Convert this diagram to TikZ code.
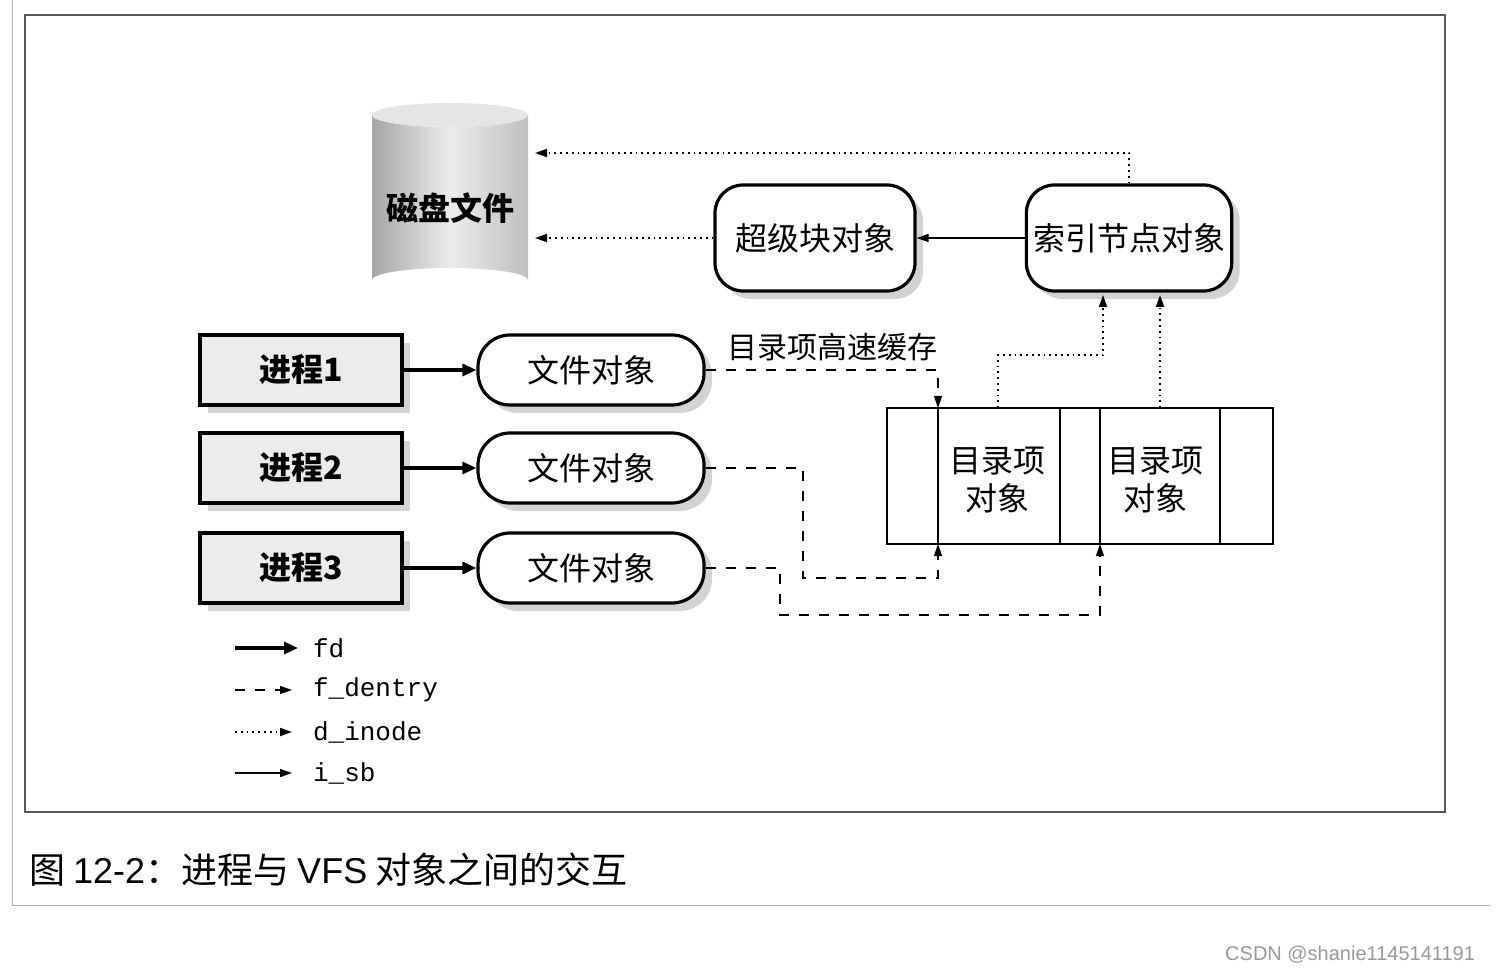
\documentclass[tikz,border=0pt]{standalone}
\usepackage{fontspec}
\setmainfont{Noto Sans CJK SC}
\newfontfamily\mono{Liberation Mono}
\newfontfamily\lat{Liberation Sans}
\usetikzlibrary{arrows.meta,shapes.geometric,shadows}
\begin{document}
\begin{tikzpicture}[x=0.5pt,y=-0.5pt,
 rbox/.style={draw,line width=1.6pt,rounded corners=14pt,fill=white,drop shadow={shadow xshift=4pt,shadow yshift=-4pt,opacity=0.35},font=\fontsize{16}{18}\selectfont,align=center},
 pbox/.style={draw,line width=1.8pt,fill=gray!15,drop shadow={shadow xshift=4pt,shadow yshift=-4pt,opacity=0.35},font=\fontsize{16}{18}\selectfont\bfseries},
 fd/.style={line width=1.6pt,-{Triangle[length=7pt,width=6pt]}},
 fden/.style={dash pattern=on 5pt off 5pt,line width=0.6pt,-{Triangle[length=6pt,width=4pt]}},
 dino/.style={dotted,line width=0.9pt,-{Triangle[length=6pt,width=4pt]}},
 isb/.style={line width=0.8pt,-{Triangle[length=6pt,width=4pt]}},
 lbl/.style={font=\mono\fontsize{13}{15}\selectfont,anchor=west}]
\useasboundingbox (0,0) rectangle (1497,972);
\draw[gray!60] (12,0) -- (12,905) -- (1490,905);
\draw[gray!70!black,line width=0.8pt] (25,15) rectangle (1445,812);
% cylinder
\shade[left color=gray!70,right color=gray!50,middle color=gray!15] (372,115) -- (372,280) arc[start angle=180,end angle=360,x radius=78,y radius=12] -- (528,115) arc[start angle=0,end angle=180,x radius=78,y radius=12];
\fill[gray!20] (450,115) ellipse[x radius=78,y radius=12];
\node[font=\fontsize{16}{18}\selectfont\bfseries] (disk) at (450,208) {磁盘文件};
\coordinate (dtop) at (535,153);
\coordinate (dmid) at (535,238);
\node[rbox,minimum width=100pt,minimum height=53pt] (sb) at (815,238) {超级块对象};
\node[rbox,minimum width=99pt,minimum height=53pt] (ino) at (1129,238) {索引节点对象};
\draw[isb] (ino.west) -- (sb.east);
\draw[dino] (sb.west) -- (dmid);
\draw[dino] (ino.north) |- (dtop);
\foreach \i/\y in {1/370,2/468,3/568}{
 \node[pbox,minimum width=101pt,minimum height=35pt] (p\i) at (301,\y) {进程\i};
 \node[rbox,minimum width=113pt,minimum height=35pt,rounded corners=16pt,font=\fontsize{16}{18}\selectfont] (f\i) at (591,\y) {文件对象};
 \draw[fd] (p\i.east) -- (f\i.west);
}
% dentry table
\node[draw,line width=0.8pt,minimum width=193pt,minimum height=68pt,inner sep=0pt] (tab) at (1080,476) {};
\foreach \x in {938,1060,1100,1220}{\draw[line width=0.8pt] (\x,408) -- (\x,544);}
\node[font=\fontsize{16}{19}\selectfont,align=center] (d1) at (997,480) {目录项\\对象};
\node[font=\fontsize{16}{19}\selectfont,align=center] (d2) at (1155,480) {目录项\\对象};
\node[font=\fontsize{15}{17}\selectfont,anchor=south] (cache) at (832,368) {目录项高速缓存};
\coordinate (c1t) at (938,408);
\coordinate (c1b) at (938,544);
\coordinate (c2b) at (1100,544);
\draw[fden] (f1.east) -- (938,370) -- (c1t);
\draw[fden] (f2.east) -- (803,468) -- (803,578) -- (938,578) -- (c1b);
\draw[fden] (f3.east) -- (780,568) -- (780,615) -- (1100,615) -- (c2b);
\draw[dino] (998,408) -- (998,355) -- (1103,355) -- (1103,295);
\draw[dino] (1160,408) -- (1160,295);
% legend
\coordinate (l1a) at (235,648); \coordinate (l1b) at (298,648);
\coordinate (l2a) at (235,690); \coordinate (l2b) at (292,690);
\coordinate (l3a) at (235,732); \coordinate (l3b) at (292,732);
\coordinate (l4a) at (235,773); \coordinate (l4b) at (292,773);
\draw[fd] (l1a) -- (l1b);
\draw[fden] (l2a) -- (l2b);
\draw[dino] (l3a) -- (l3b);
\draw[isb] (l4a) -- (l4b);
\node[lbl] at (306,648) {fd};
\node[lbl] at (306,690) {f\_dentry};
\node[lbl] at (306,732) {d\_inode};
\node[lbl] at (306,773) {i\_sb};
\node[anchor=west,font=\fontsize{18}{20}\selectfont] (cap) at (22,870) {图 {\lat 12-2}：进程与 {\lat VFS} 对象之间的交互};
\node[anchor=east,font=\lat\fontsize{10}{12}\selectfont,text=gray!80] (wm) at (1482,955) {CSDN @shanie1145141191};
\end{tikzpicture}
\end{document}
